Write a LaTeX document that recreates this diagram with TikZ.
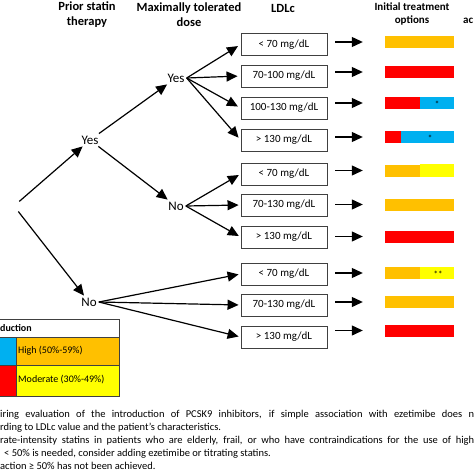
\documentclass[tikz,border=0pt]{standalone}
\usepackage{fontspec}
\setmainfont{Carlito}
\usetikzlibrary{arrows.meta}

\definecolor{optorange}{HTML}{FFC000}
\definecolor{optred}{HTML}{FF0000}
\definecolor{optblue}{HTML}{00B0F0}
\definecolor{optyellow}{HTML}{FFFF00}

\tikzset{
  arr/.style={-{Triangle[length=11pt,width=10pt]}, line width=1.2pt},
  ldlbox/.style={draw=black!75, line width=0.9pt, minimum width=86pt, minimum height=22pt, inner sep=1pt, font=\fontsize{11}{12}\selectfont},
  optbar/.style={fill=#1, minimum width=69pt, minimum height=12pt, inner sep=0pt},
  head/.style={font=\bfseries\fontsize{12.5}{15}\selectfont, align=center},
  answer/.style={font=\fontsize{13}{15}\selectfont, inner sep=2pt},
  star/.style={font=\fontsize{9}{9}\selectfont, inner sep=0pt},
  legtext/.style={font=\fontsize{10}{11}\selectfont, anchor=west, inner sep=0pt},
  note/.style={font=\fontsize{10.5}{12}\selectfont, anchor=base west, inner sep=0pt},
}

\begin{document}
\begin{tikzpicture}[x=1pt,y=-1pt]
    \useasboundingbox (0,0) rectangle (474,474);

    % column headings
    \node[head] (hprior) at (87,15) {Prior statin\\therapy};
    \node[head] (hmax) at (189,15) {Maximally tolerated\\dose};
    \node[head] (hldl) at (283,8) {LDLc};
    \node[head, font=\bfseries\fontsize{11}{13}\selectfont] (hopt) at (412,14) {Initial treatment\\options};
    \node[head, font=\bfseries\fontsize{11}{13}\selectfont, anchor=west, inner sep=0pt] (hact) at (463,21) {ac};

    % decision tree
    \coordinate (root) at (14,206);
    \node[answer] (yes1) at (90,140) {Yes};
    \node[answer] (no1) at (89,302) {No};
    \node[answer] (yes2) at (176,78) {Yes};
    \node[answer] (no2) at (176,206) {No};

    \draw[arr, shorten <=7pt] (root) -- (yes1);
    \draw[arr, shorten <=7pt] (root) -- (no1);
    \draw[arr] (yes1) -- (yes2);
    \draw[arr] (yes1) -- (no2);

    % LDLc boxes
    \node[ldlbox] (b1) at (284,44.5) {< 70 mg/dL};
    \node[ldlbox] (b2) at (284,76) {70-100 mg/dL};
    \node[ldlbox] (b3) at (284,108) {100-130 mg/dL};
    \node[ldlbox] (b4) at (284,140) {> 130 mg/dL};
    \node[ldlbox] (b5) at (284,174) {< 70 mg/dL};
    \node[ldlbox] (b6) at (284,205) {70-130 mg/dL};
    \node[ldlbox] (b7) at (284,237) {> 130 mg/dL};
    \node[ldlbox] (b8) at (284,274) {< 70 mg/dL};
    \node[ldlbox] (b9) at (284,305) {70-130 mg/dL};
    \node[ldlbox] (b10) at (284,337) {> 130 mg/dL};

    \draw[arr, shorten >=3pt] (yes2.east) -- (b1.west);
    \draw[arr, shorten >=3pt] (yes2.east) -- (b2.west);
    \draw[arr, shorten >=3pt] (yes2.east) -- (b3.west);
    \draw[arr, shorten >=3pt] (yes2.east) -- (b4.west);
    \draw[arr, shorten >=2pt] (no2.east) -- (b5.west);
    \draw[arr, shorten >=2pt] (no2.east) -- (b6.west);
    \draw[arr, shorten >=2pt] (no2.east) -- (b7.west);
    \draw[arr, shorten >=2pt] (no1.east) -- (b8.west);
    \draw[arr, shorten >=2pt] (no1.east) -- (b9.west);
    \draw[arr, shorten >=2pt] (no1.east) -- (b10.west);

    % treatment bars
    \node[optbar=optorange] (o1) at (419.5,42) {};
    \node[optbar=optred] (o2) at (419.5,72) {};
    \node[optbar=optred] (o3) at (419.5,103) {};
    \fill[optblue] (o3.north) rectangle (o3.south east);
    \node[star] (s3) at (437,104) {*};
    \node[optbar=optblue] (o4) at (419.5,137) {};
    \fill[optred] (o4.north west) rectangle ([xshift=-19pt]o4.south);
    \node[star] (s4) at (430,138) {*};
    \node[optbar=optorange] (o5) at (419.5,170.5) {};
    \fill[optyellow] (o5.north) rectangle (o5.south east);
    \node[optbar=optorange] (o6) at (419.5,204.5) {};
    \node[optbar=optred] (o7) at (419.5,236.5) {};
    \node[optbar=optorange] (o8) at (419.5,273) {};
    \fill[optyellow] (o8.north) rectangle (o8.south east);
    \node[star] (s8) at (438,274) {**};
    \node[optbar=optorange] (o9) at (419.5,302) {};
    \node[optbar=optred] (o10) at (419.5,330.5) {};

    \draw[arr, shorten <=8pt, shorten >=22pt] (b1.east |- o1.west) -- (o1.west);
    \draw[arr, shorten <=8pt, shorten >=22pt] (b2.east |- o2.west) -- (o2.west);
    \draw[arr, shorten <=8pt, shorten >=22pt] (b3.east |- o3.west) -- (o3.west);
    \draw[arr, shorten <=8pt, shorten >=22pt] (b4.east |- o4.west) -- (o4.west);
    \draw[arr, shorten <=8pt, shorten >=22pt] (b5.east |- o5.west) -- (o5.west);
    \draw[arr, shorten <=8pt, shorten >=22pt] (b6.east |- o6.west) -- (o6.west);
    \draw[arr, shorten <=8pt, shorten >=22pt] (b7.east |- o7.west) -- (o7.west);
    \draw[arr, shorten <=8pt, shorten >=22pt] (b8.east |- o8.west) -- (o8.west);
    \draw[arr, shorten <=8pt, shorten >=22pt] (b9.east |- o9.west) -- (o9.west);
    \draw[arr, shorten <=8pt, shorten >=22pt] (b10.east |- o10.west) -- (o10.west);

    % legend
    \fill[optblue] (0,337) rectangle (16,365);
    \fill[optorange] (16,337) rectangle (119,365);
    \fill[optred] (0,365) rectangle (16,396);
    \fill[optyellow] (16,365) rectangle (119,396);
    \draw[black!75, line width=0.8pt] (0,319) -- (119,319) -- (119,396) -- (0,396);
    \draw[black!75, line width=0.8pt] (0,337) -- (119,337) (0,365) -- (119,365) (16,337) -- (16,396);
    \node[legtext, font=\bfseries\fontsize{10}{11}\selectfont] (lhead) at (0,328) {duction};
    \node[legtext] (lhigh) at (18,351) {High (50\%-59\%)};
    \node[legtext] (lmod) at (18,380) {Moderate (30\%-49\%)};

    % footnotes
    \node[note] (n1) at (0,417) {\hbox to 474pt{iring evaluation of the introduction of PCSK9 inhibitors, if simple association with ezetimibe does n}};
    \node[note] (n2) at (0,430) {rding to LDLc value and the patient’s characteristics.};
    \node[note] (n3) at (0,443) {\hbox to 474pt{rate-intensity statins in patients who are elderly, frail, or who have contraindications for the use of high}};
    \node[note] (n4) at (4,456) {< 50\% is needed, consider adding ezetimibe or titrating statins.};
    \node[note] (n5) at (0,469) {action ≥ 50\% has not been achieved.};
\end{tikzpicture}
\end{document}
